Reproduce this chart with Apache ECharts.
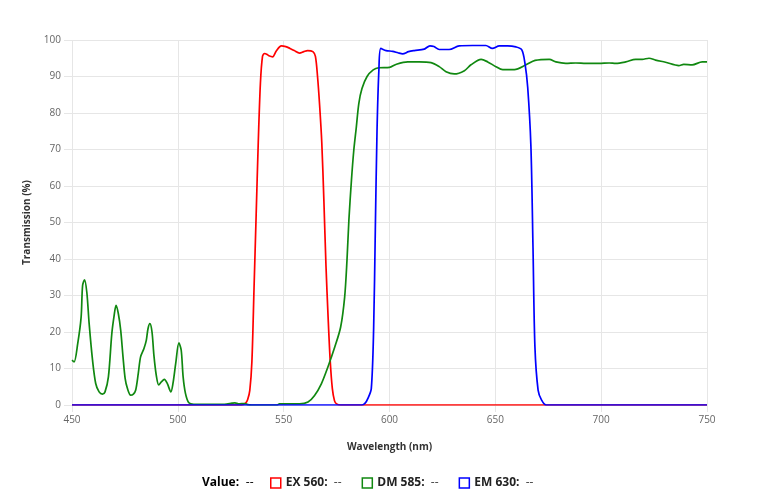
<!DOCTYPE html>
<html><head><meta charset="utf-8">
<script src="https://cdn.jsdelivr.net/npm/echarts@6/dist/echarts.min.js"></script>
<style>html,body{margin:0;padding:0;background:#fff}#c{width:768px;height:503px}</style>
</head><body><div id="c"></div>
<script>
// EX 560 (red)
const exWl  = [450, 530, 532, 533, 534, 535, 536, 537, 538, 539, 540, 541, 542, 543, 544.8, 546.5, 548.9, 551, 553, 555, 557.5, 559.5, 561.3, 563.8, 565, 566, 567, 568, 569, 570, 571, 572, 573, 574, 575, 577, 750];
const exVal = [0, 0, 0.5, 1.5, 4, 12, 32, 52, 72, 88, 95.5, 96.3, 96.1, 95.7, 95.4, 97, 98.4, 98.2, 97.7, 97.1, 96.4, 96.8, 97.1, 96.8, 95.5, 90, 82, 72, 56, 38, 24, 12, 4.5, 1.2, 0.3, 0, 0];
// DM 585 (green)
const dmWl  = [450, 451, 452.7, 454.3, 455, 455.9, 457, 458.1, 459.7, 461.2, 462.8, 464.4, 465.6, 467.2, 468.8, 469.9, 470.8, 471.9, 473, 474.1, 475.1, 476.2, 477.7, 479, 480.1, 481.3, 482.4, 484, 485.1, 485.9, 486.8, 487.8, 488.7, 489.8, 491, 492.3, 493.6, 495, 496.7, 497.7, 499, 500.5, 501.6, 502.5, 503.6, 505.2, 507.5, 515, 522, 525.6, 527, 528.6, 531.7, 533, 535, 547, 548, 557.5, 561.5, 564.6, 567.8, 570.9, 574.1, 576.9, 578.8, 579.9, 580.8, 582, 583.1, 584.3, 585.5, 587, 589.4, 592.3, 594.9, 600, 603, 608.6, 614, 619.6, 623.5, 626.7, 630.6, 635.4, 638.5, 643.3, 646.4, 650.3, 653.5, 659, 664.5, 668.8, 675.5, 678.6, 683.3, 688, 692.8, 699, 703.8, 706.9, 711.6, 716.3, 719.4, 722.6, 725.7, 730.4, 736.7, 739, 743, 747.7, 750];
const dmVal = [12.3, 11.8, 16.8, 24, 32.7, 34.3, 30.9, 22.3, 12.3, 5.9, 3.6, 3, 3.6, 7.7, 19.5, 24.5, 27.3, 25, 20.5, 13.2, 7.3, 4.5, 2.7, 3, 4.1, 8.6, 13.2, 15.5, 17.7, 20.9, 22.3, 20, 13.6, 8.2, 5.5, 6.4, 7, 5.9, 3.6, 5.9, 11.4, 17, 15, 7.7, 3.2, 0.6, 0.2, 0.2, 0.2, 0.5, 0.6, 0.3, 0.4, 0.1, 0, 0, 0.3, 0.3, 0.8, 2.6, 5.8, 10.4, 15.8, 21.3, 29.5, 39.5, 50.5, 61.4, 69.6, 76, 82.6, 86.7, 90, 91.8, 92.4, 92.5, 93.3, 94, 94, 93.8, 92.7, 91.3, 90.7, 91.6, 93.2, 94.7, 94, 92.7, 91.9, 91.9, 93.2, 94.4, 94.7, 94, 93.6, 93.7, 93.6, 93.6, 93.7, 93.6, 94, 94.7, 94.7, 95, 94.5, 93.9, 93, 93.3, 93.2, 94, 94];
// EM 630 (blue)
const emWl  = [450, 587, 588.5, 589.8, 591.4, 592.5, 593.3, 594.1, 595, 595.9, 598.4, 601.5, 604, 606.2, 609, 611.7, 616.4, 619.1, 621, 623.5, 628.2, 632.9, 639.2, 645.5, 648.6, 651.9, 655.8, 659.7, 662.5, 664, 665.3, 666.8, 667.8, 668.7, 670.2, 671.8, 674, 750];
const emVal = [0, 0, 0.5, 1.8, 4.5, 20.8, 48, 75, 92, 97.7, 97.1, 96.9, 96.5, 96.2, 96.8, 97.1, 97.5, 98.4, 98.2, 97.4, 97.4, 98.4, 98.5, 98.5, 97.7, 98.4, 98.4, 98.1, 97.3, 93.6, 87, 71, 43, 16, 4.1, 1.4, 0, 0];

const seriesNames = ['EX 560', 'DM 585', 'EM 630'];
const seriesColors = ['#ff0000', '#108810', '#0000ff'];
const xTicks = {min: 450, max: 750, interval: 50};
const yTicks = {min: 0, max: 100, interval: 10};

const FONT = '"Open Sans", "Noto Sans", sans-serif';
const pairs = (a, b) => a.map((x, i) => [x, b[i]]);
const dataSets = [pairs(exWl, exVal), pairs(dmWl, dmVal), pairs(emWl, emVal)];

const chart = echarts.init(document.getElementById('c'), null, {renderer: 'canvas'});
const gridColor = '#e6e6e6';
const rich = {
  b: {fontFamily: FONT, fontWeight: 'bold', fontSize: 12, color: '#222', lineHeight: 14},
  d: {fontFamily: FONT, fontSize: 12, color: '#444', lineHeight: 14}
};
chart.setOption({
  animation: false,
  textStyle: {fontFamily: FONT},
  grid: {left: 72, right: 61, top: 40, bottom: 98},
  xAxis: {
    type: 'value', min: xTicks.min, max: xTicks.max, interval: xTicks.interval,
    name: 'Wavelength (nm)', nameLocation: 'middle', nameGap: 37,
    nameTextStyle: {fontFamily: FONT, fontWeight: 'bold', fontSize: 10, color: '#333'},
    axisLine: {show: false},
    axisTick: {show: true, length: 7, lineStyle: {color: gridColor}},
    axisLabel: {color: '#666', fontSize: 10, margin: 10, fontFamily: FONT},
    splitLine: {show: true, lineStyle: {color: gridColor}}
  },
  yAxis: {
    type: 'value', min: yTicks.min, max: yTicks.max, interval: yTicks.interval,
    name: 'Transmission (%)', nameLocation: 'middle', nameGap: 40, nameRotate: 90,
    nameTextStyle: {fontFamily: FONT, fontWeight: 'bold', fontSize: 10, color: '#333'},
    axisLine: {show: false},
    axisTick: {show: true, length: 8, lineStyle: {color: gridColor}},
    axisLabel: {color: '#666', fontSize: 10, margin: 11, fontFamily: FONT},
    splitLine: {show: true, lineStyle: {color: gridColor}}
  },
  legend: {
    left: 270, top: 477, padding: 0, icon: 'rect', itemWidth: 10, itemHeight: 10, itemGap: 20,
    data: seriesNames.map((n, i) => ({name: n, itemStyle: {color: 'transparent', borderColor: seriesColors[i], borderWidth: 1.5}})),
    formatter: n => '{b|' + n + ':}  {d|--}',
    textStyle: {rich: rich},
    selectedMode: false
  },
  graphic: [{
    type: 'text', left: 202, top: 477,
    style: {text: '{b|Value:}  {d|--}', rich: rich}
  }],
  series: seriesNames.map((n, i) => ({
    name: n, type: 'line', data: dataSets[i], showSymbol: false, symbol: 'none',
    smooth: 0.3,
    lineStyle: {color: seriesColors[i], width: 1.7},
    itemStyle: {color: seriesColors[i]}
  }))
});
</script></body></html>
